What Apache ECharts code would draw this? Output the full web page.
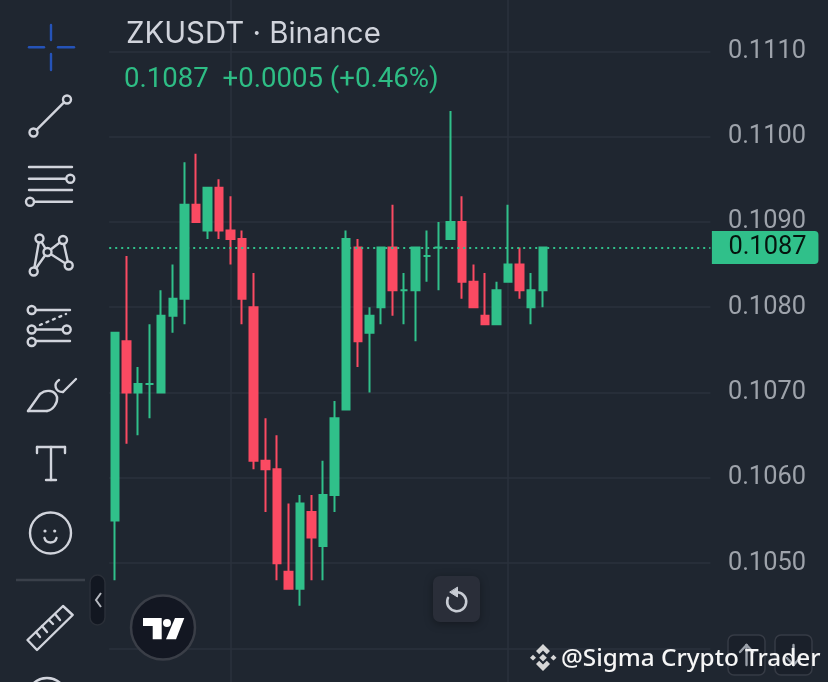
<!DOCTYPE html>
<html>
<head>
<meta charset="utf-8">
<style>html,body{margin:0;padding:0;background:#1f2630;overflow:hidden}#c{width:828px;height:682px}</style>
<script src="https://cdn.jsdelivr.net/npm/echarts@6/dist/echarts.min.js"></script>
</head>
<body>
<div id="c"></div>
<script>
const opens  = [0.1055,0.1076,0.1070,0.1071,0.1070,0.1079,0.1081,0.1092,0.1089,0.1094,0.1089,0.1088,0.1080,0.1062,0.1061,0.1049,0.1047,0.1056,0.1052,0.1058,0.1068,0.1087,0.1077,0.1080,0.1087,0.1082,0.1082,0.1086,0.1087,0.1088,0.1090,0.1083,0.1079,0.1078,0.1083,0.1085,0.1080,0.1082];
const closes = [0.1077,0.1070,0.1071,0.1071,0.1079,0.1081,0.1092,0.1090,0.1094,0.1089,0.1088,0.1081,0.1062,0.1061,0.1050,0.1047,0.1057,0.1053,0.1058,0.1067,0.1088,0.1076,0.1079,0.1087,0.1082,0.1082,0.1087,0.1086,0.1087,0.1090,0.1083,0.1080,0.1078,0.1082,0.1085,0.1082,0.1082,0.1087];
const lows   = [0.1048,0.1064,0.1065,0.1067,0.1070,0.1077,0.1078,0.1090,0.1088,0.1088,0.1085,0.1078,0.1061,0.1056,0.1048,0.1047,0.1045,0.1048,0.1048,0.1056,0.1068,0.1073,0.1070,0.1078,0.1079,0.1078,0.1076,0.1083,0.1082,0.1088,0.1081,0.1080,0.1078,0.1078,0.1083,0.1081,0.1078,0.1080];
const highs  = [0.1077,0.1086,0.1073,0.1078,0.1082,0.1085,0.1097,0.1098,0.1094,0.1095,0.1093,0.1089,0.1084,0.1067,0.1065,0.1057,0.1058,0.1058,0.1062,0.1069,0.1089,0.1088,0.1080,0.1087,0.1092,0.1084,0.1087,0.1089,0.1090,0.1103,0.1093,0.1085,0.1084,0.1083,0.1092,0.1087,0.1084,0.1087];
const barSlots = 52;
const tickLabels = ['0.1110','0.1100','0.1090','0.1080','0.1070','0.1060','0.1050'];
const lastPrice = 0.1087;
const titleText = 'ZKUSDT · Binance';
const quoteText = '0.1087  +0.0005 (+0.46%)';
const watermark = '@Sigma Crypto Trader';

const GREEN='#30c08a', RED='#fb4a62', BG='#1f2630', GRID='#2b323c', ICON='#d1d4dc', FONT='Inter, "Noto Sans", sans-serif', NUM='Roboto, Inter, sans-serif';
const categories = Array.from({length:barSlots},(_,i)=>String(i+1));
const candles = opens.map((o,i)=>[o,closes[i],lows[i],highs[i]]);

const st = {stroke:ICON,lineWidth:2.4,fill:'none',lineCap:'round',lineJoin:'round'};
const mix=(s)=>Object.assign({},st,s||{});
function L(a,b,c,d,s){return {type:'line',shape:{x1:a,y1:b,x2:c,y2:d},style:mix(s)};}
function C(x,y,r,s){return {type:'circle',shape:{cx:x,cy:y,r:r},style:mix(s)};}
function B(a,b,c1,c2,c3,c4,c,d,s){return {type:'bezierCurve',shape:{x1:a,y1:b,cpx1:c1,cpy1:c2,cpx2:c3,cpy2:c4,x2:c,y2:d},style:mix(s)};}
function PL(pts,s){return {type:'polygon',shape:{points:pts},style:mix(s)};}
const blue={stroke:'#2553b8'};
const solid=(c)=>({fill:c,stroke:'none'});
const icons=[
 L(51,25,51,40,blue),L(51,54,51,70,blue),L(29,47.3,44,47.3,blue),L(58,47.3,74,47.3,blue),
 L(36.5,129.8,64,102.3),C(67,99.5,4),C(33.5,132.5,4),
 L(29,167,72,167),L(29,178.7,66,178.7),C(70.3,178.7,4),L(29,190,72,190),L(34,201.7,72,201.7),C(30,201.7,4),
 L(39.5,238.5,33.7,271.5),L(39.5,238.5,47.5,252),L(33.7,271.5,47.5,252),L(47.5,252,63,240),L(47.5,252,68.7,265.5),L(63,240,68.7,265.5),
 C(39.5,238.5,4,{fill:BG}),C(63,240,4,{fill:BG}),C(47.5,252,4,{fill:BG}),C(68.7,265.5,4,{fill:BG}),C(33.7,271.5,4,{fill:BG}),
 L(36,310,70,310),C(31.7,310,4),L(40,325,66,314,{lineDash:[2,5]}),L(36,329.5,62.5,329.5),C(31.7,329.5,4),C(66.7,329.5,4),L(36,341,70,341),C(31.7,342,4),
 L(28,411,40,394),B(40,394,46,389,55,390,57,397),B(57,397,58,403,53,410,47,411),L(47,411,28,411),
 B(59,380,53,384,55,392,63,392),L(63,392,76,379),
 L(37,453,37,447),L(37,447,65,447),L(65,447,65,453),L(51,447,51,480),L(46,480,56,480),
 C(50.5,533,20.5),C(45,531,1.6,solid(ICON)),C(54.7,531,1.6,solid(ICON)),
 B(44.5,538,46,544,55,544,56.5,538),
 L(16,580,85,580,{stroke:'#3a404a',lineCap:'butt'}),
 {type:'rect',shape:{x:90,y:575,width:15,height:50,r:7.5},style:{fill:'#121721',stroke:'#2a2f38',lineWidth:1.5}},
 {type:'polyline',shape:{points:[[101,593],[96,600],[101,607]]},style:{stroke:'#b5b8bf',lineWidth:2,fill:'none'}},
 PL([[63,606],[72.7,615],[37,650],[27.5,640]]),
 L(36,632,40,637),L(42,626,47,632),L(49,620,53,624),L(55,614,60,620),
 C(47,698,20),
 {type:'circle',shape:{cx:163,cy:627.5,r:32},style:{fill:'#131722',stroke:'#3a3e47',lineWidth:2.5}},
 PL([[143,618],[161.7,618],[161.7,639.3],[152.7,639.3],[152.7,626],[143,626]],solid('#fff')),
 C(167,623,4,solid('#fff')),
 PL([[175,618],[184.3,618],[176,639.3],[166,639.3]],solid('#fff')),
 {type:'rect',shape:{x:433,y:576,width:47,height:46,r:7},style:{fill:'#2a2e39',shadowBlur:8,shadowColor:'rgba(0,0,0,.35)',shadowOffsetY:2}},
 {type:'arc',shape:{cx:456.7,cy:601.7,r:9.5,startAngle:-1.45,endAngle:3.55,clockwise:true},style:{stroke:'#c8ccd4',lineWidth:2.6,fill:'none',lineCap:'round'}},
 PL([[457.5,587.5],[457.5,597],[450,592.3]],{fill:'#c8ccd4',stroke:'#c8ccd4',lineWidth:1}),
 {type:'rect',shape:{x:728,y:635,width:37,height:40,r:6},style:{fill:'#1a202a',stroke:'#363b45',lineWidth:1.5}},
 {type:'rect',shape:{x:775,y:635,width:37,height:40,r:6},style:{fill:'#1a202a',stroke:'#363b45',lineWidth:1.5}},
 L(746.5,645,746.5,665,{stroke:'#9aa0a9'}),L(740,652,746.5,645,{stroke:'#9aa0a9'}),L(753,652,746.5,645,{stroke:'#9aa0a9'}),
 L(793.5,645,793.5,665,{stroke:'#9aa0a9'}),L(787,658,793.5,665,{stroke:'#9aa0a9'}),L(800,658,793.5,665,{stroke:'#9aa0a9'}),
 PL([[543,644],[550,651],[546.8,654.2],[543,650.4],[539.2,654.2],[536,651]],solid('#d6d6d6')),
 PL([[543,671],[550,664],[546.8,660.8],[543,664.6],[539.2,660.8],[536,664]],solid('#d6d6d6')),
 PL([[543,654],[546.8,657.7],[543,661.4],[539.2,657.7]],solid('#d6d6d6')),
 PL([[533,654.8],[536,657.7],[533,660.6],[530,657.7]],solid('#d6d6d6')),
 PL([[553.5,654.8],[556.5,657.7],[553.5,660.6],[550.5,657.7]],solid('#d6d6d6')),
 {type:'text',style:{x:561,y:659,text:watermark,fill:'#f5f5f5',font:'500 24.3px "Noto Sans", sans-serif',verticalAlign:'middle'}}
];

const chart = echarts.init(document.getElementById('c'),null,{renderer:'canvas',width:828,height:682});
chart.setOption({
  animation:false,
  backgroundColor:BG,
  title:[
    {text:titleText,left:126,top:20,padding:0,textStyle:{color:ICON,fontFamily:FONT,fontSize:29.4,fontWeight:400}},
    {text:quoteText,left:124,top:66.5,padding:0,textStyle:{color:'#2ebd85',fontFamily:NUM,fontSize:27.6,fontWeight:400}}
  ],
  grid:{left:109.2,width:601.2,top:-34,height:767.8,containLabel:false,outerBoundsMode:'none'},
  xAxis:{type:'category',data:categories,boundaryGap:true,
    axisLine:{show:false},axisTick:{show:false},axisLabel:{show:false},
    splitLine:{show:true,alignWithLabel:true,interval:(i)=>i%24===10,lineStyle:{color:GRID,width:1.5}}},
  yAxis:{type:'value',position:'right',min:0.103,max:0.112,interval:0.001,
    axisLine:{show:false},axisTick:{show:false},
    axisLabel:{margin:17.5,color:'#9ea3ab',fontFamily:NUM,fontSize:25.4,padding:[9,0,0,0],
      formatter:(v)=>{const s=v.toFixed(4);return tickLabels.includes(s)?s:'';}},
    splitLine:{show:true,lineStyle:{color:GRID,width:1.5}}},
  series:[{
    type:'candlestick',data:candles,barWidth:8,
    itemStyle:{color:GREEN,color0:RED,borderColor:GREEN,borderColor0:RED,borderColorDoji:GREEN,borderWidth:2},
    markLine:{silent:true,symbol:'none',precision:4,
      data:[{yAxis:lastPrice}],
      lineStyle:{color:GREEN,type:[2,4],width:2},
      label:{show:true,position:'end',distance:1.5,align:'left',formatter:()=>lastPrice.toFixed(4),
        color:'#05140e',fontFamily:NUM,fontSize:25.4,backgroundColor:GREEN,borderRadius:[0,4,4,0],
        padding:[7,12,1,16.5]}}
  }],
  graphic:{elements:icons.map(e=>Object.assign({z:100,silent:true},e))}
});
</script>
</body>
</html>
